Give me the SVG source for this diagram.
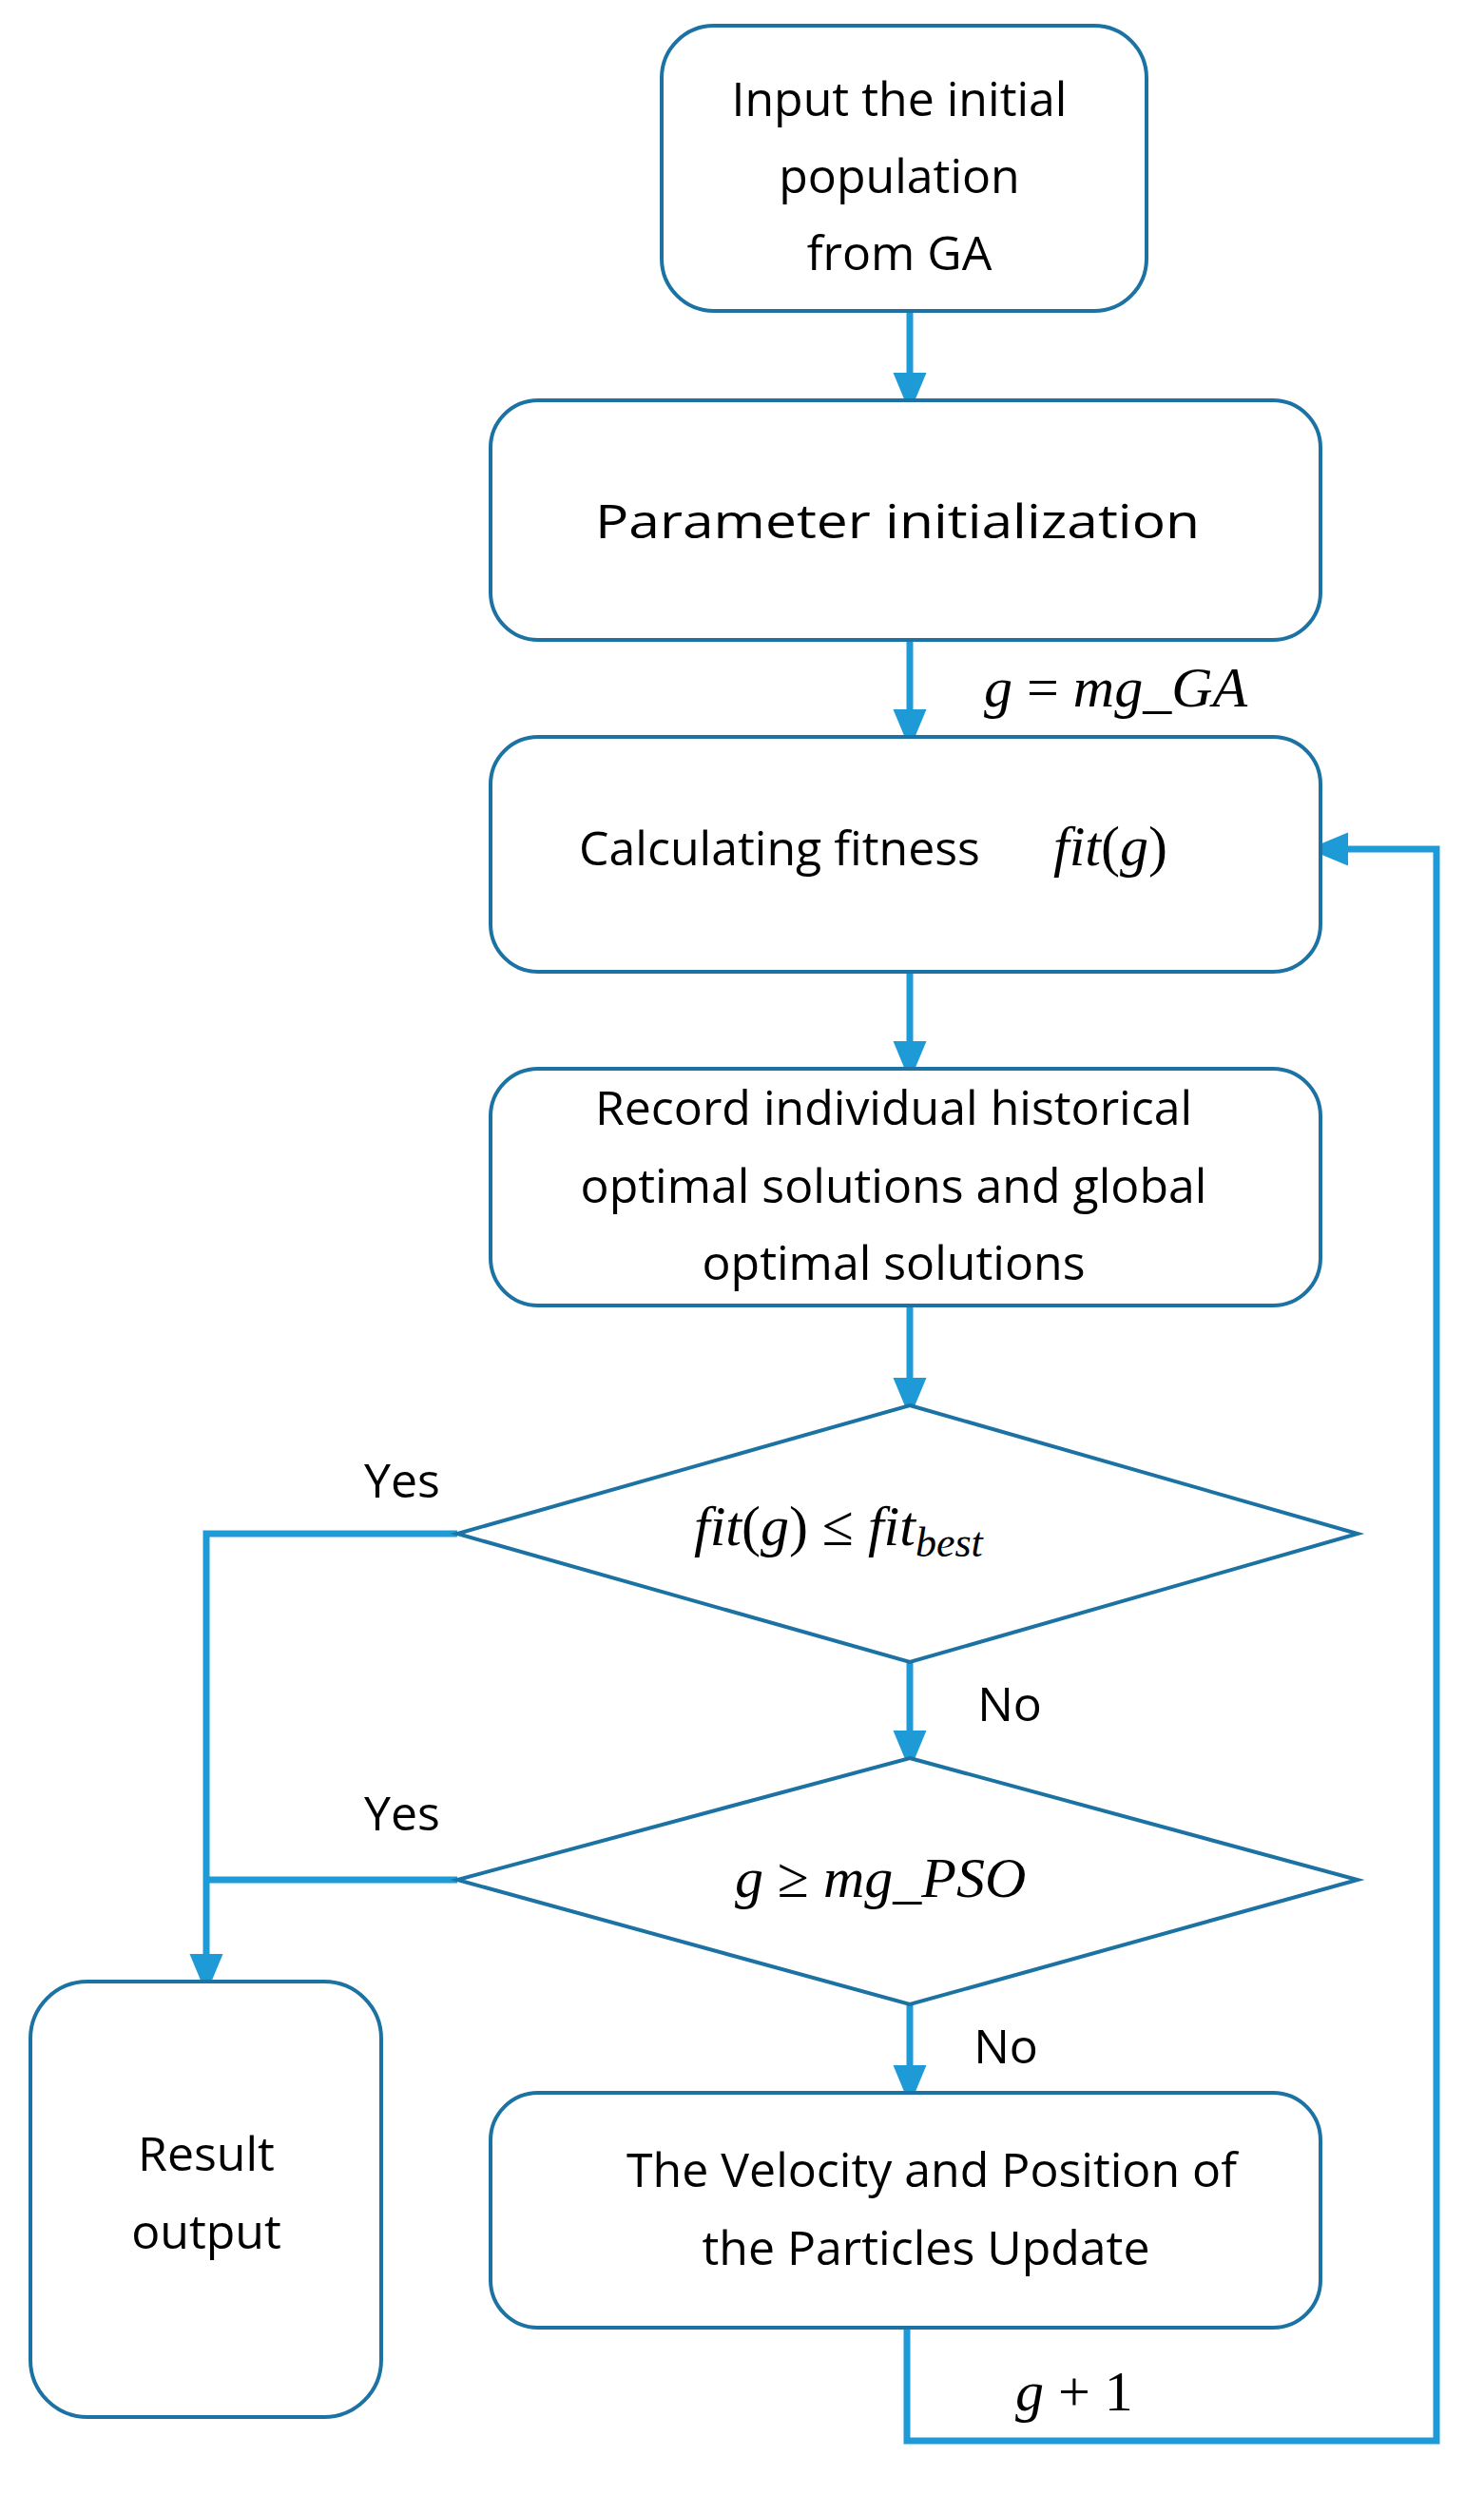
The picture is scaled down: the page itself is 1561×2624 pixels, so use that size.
<svg xmlns="http://www.w3.org/2000/svg" width="1561" height="2624" viewBox="0 0 1561 2624">
<style>
.n{fill:#fff;stroke:#1b72a3;stroke-width:4}
.c{fill:none;stroke:#1e9bd7;stroke-width:7}
.t{font-family:"Open Sans","Liberation Sans",sans-serif;font-size:50px;fill:#000;text-anchor:middle}
.m{font-family:"Liberation Serif",serif;font-style:italic;font-size:60px;fill:#000}
.r{font-style:normal}
</style>
<defs><marker id="a" markerWidth="6" markerHeight="6" refX="3" refY="3" orient="auto" markerUnits="strokeWidth"><path d="M0,0.5L6,3L0,5.5Z" fill="#1e9bd7"/></marker></defs>
<rect width="1561" height="2624" fill="#fff"/>
<g id="connectors">
<path class="c" d="M957,327V413" marker-end="url(#a)"/>
<path class="c" d="M957,673V767" marker-end="url(#a)"/>
<path class="c" d="M957,1022V1116" marker-end="url(#a)"/>
<path class="c" d="M957,1373V1470" marker-end="url(#a)"/>
<path class="c" d="M957,1748V1841" marker-end="url(#a)"/>
<path class="c" d="M957,2108V2193" marker-end="url(#a)"/>
<path class="c" d="M481,1613H217V2076" marker-end="url(#a)"/>
<path class="c" d="M481,1977H217"/>
<path class="c" d="M954,2448V2567H1511V893H1397" marker-end="url(#a)"/>
<text class="m" x="1035" y="743">g <tspan class="r">=</tspan> mg_GA</text>
<text class="t" x="423" y="1575">Yes</text>
<text class="t" x="1062" y="1810">No</text>
<text class="t" x="423" y="1925">Yes</text>
<text class="t" x="1058" y="2170">No</text>
<text class="m" x="1068" y="2535">g <tspan class="r">+ 1</tspan></text>
</g>
<g id="n1"><rect class="n" x="696" y="27" width="510" height="300" rx="55"/>
<text class="t" x="946" y="122">Input the initial</text><text class="t" x="946" y="203">population</text><text class="t" x="946" y="284">from GA</text></g>
<g id="n2"><rect class="n" x="516" y="421" width="873" height="252" rx="50"/>
<text class="t" x="944" y="566" textLength="636" lengthAdjust="spacingAndGlyphs">Parameter initialization</text></g>
<g id="n3"><rect class="n" x="516" y="775" width="873" height="247" rx="50"/>
<text class="t" x="820" y="910">Calculating fitness</text><text class="m" x="1108" y="910">fit<tspan class="r">(</tspan>g<tspan class="r">)</tspan></text></g>
<g id="n4"><rect class="n" x="516" y="1124" width="873" height="249" rx="50"/>
<text class="t" x="940" y="1183">Record individual historical</text><text class="t" x="940" y="1265">optimal solutions and global</text><text class="t" x="940" y="1346">optimal solutions</text></g>
<g id="d1"><polygon class="n" points="957,1478 1428,1613 957,1748 481,1613"/>
<text class="m" x="730" y="1625">fit<tspan class="r">(</tspan>g<tspan class="r">) ≤ </tspan>fit<tspan font-size="44" dy="12">best</tspan></text></g>
<g id="d2"><polygon class="n" points="957,1849 1428,1977 957,2108 481,1977"/>
<text class="m" x="773" y="1995">g <tspan class="r">≥</tspan> mg_PSO</text></g>
<g id="n5"><rect class="n" x="32" y="2084" width="369" height="458" rx="60"/>
<text class="t" x="217" y="2283">Result</text><text class="t" x="217" y="2365">output</text></g>
<g id="n6"><rect class="n" x="516" y="2201" width="873" height="247" rx="50"/>
<text class="t" x="980" y="2300">The Velocity and Position of</text><text class="t" x="974" y="2382">the Particles Update</text></g>
</svg>
